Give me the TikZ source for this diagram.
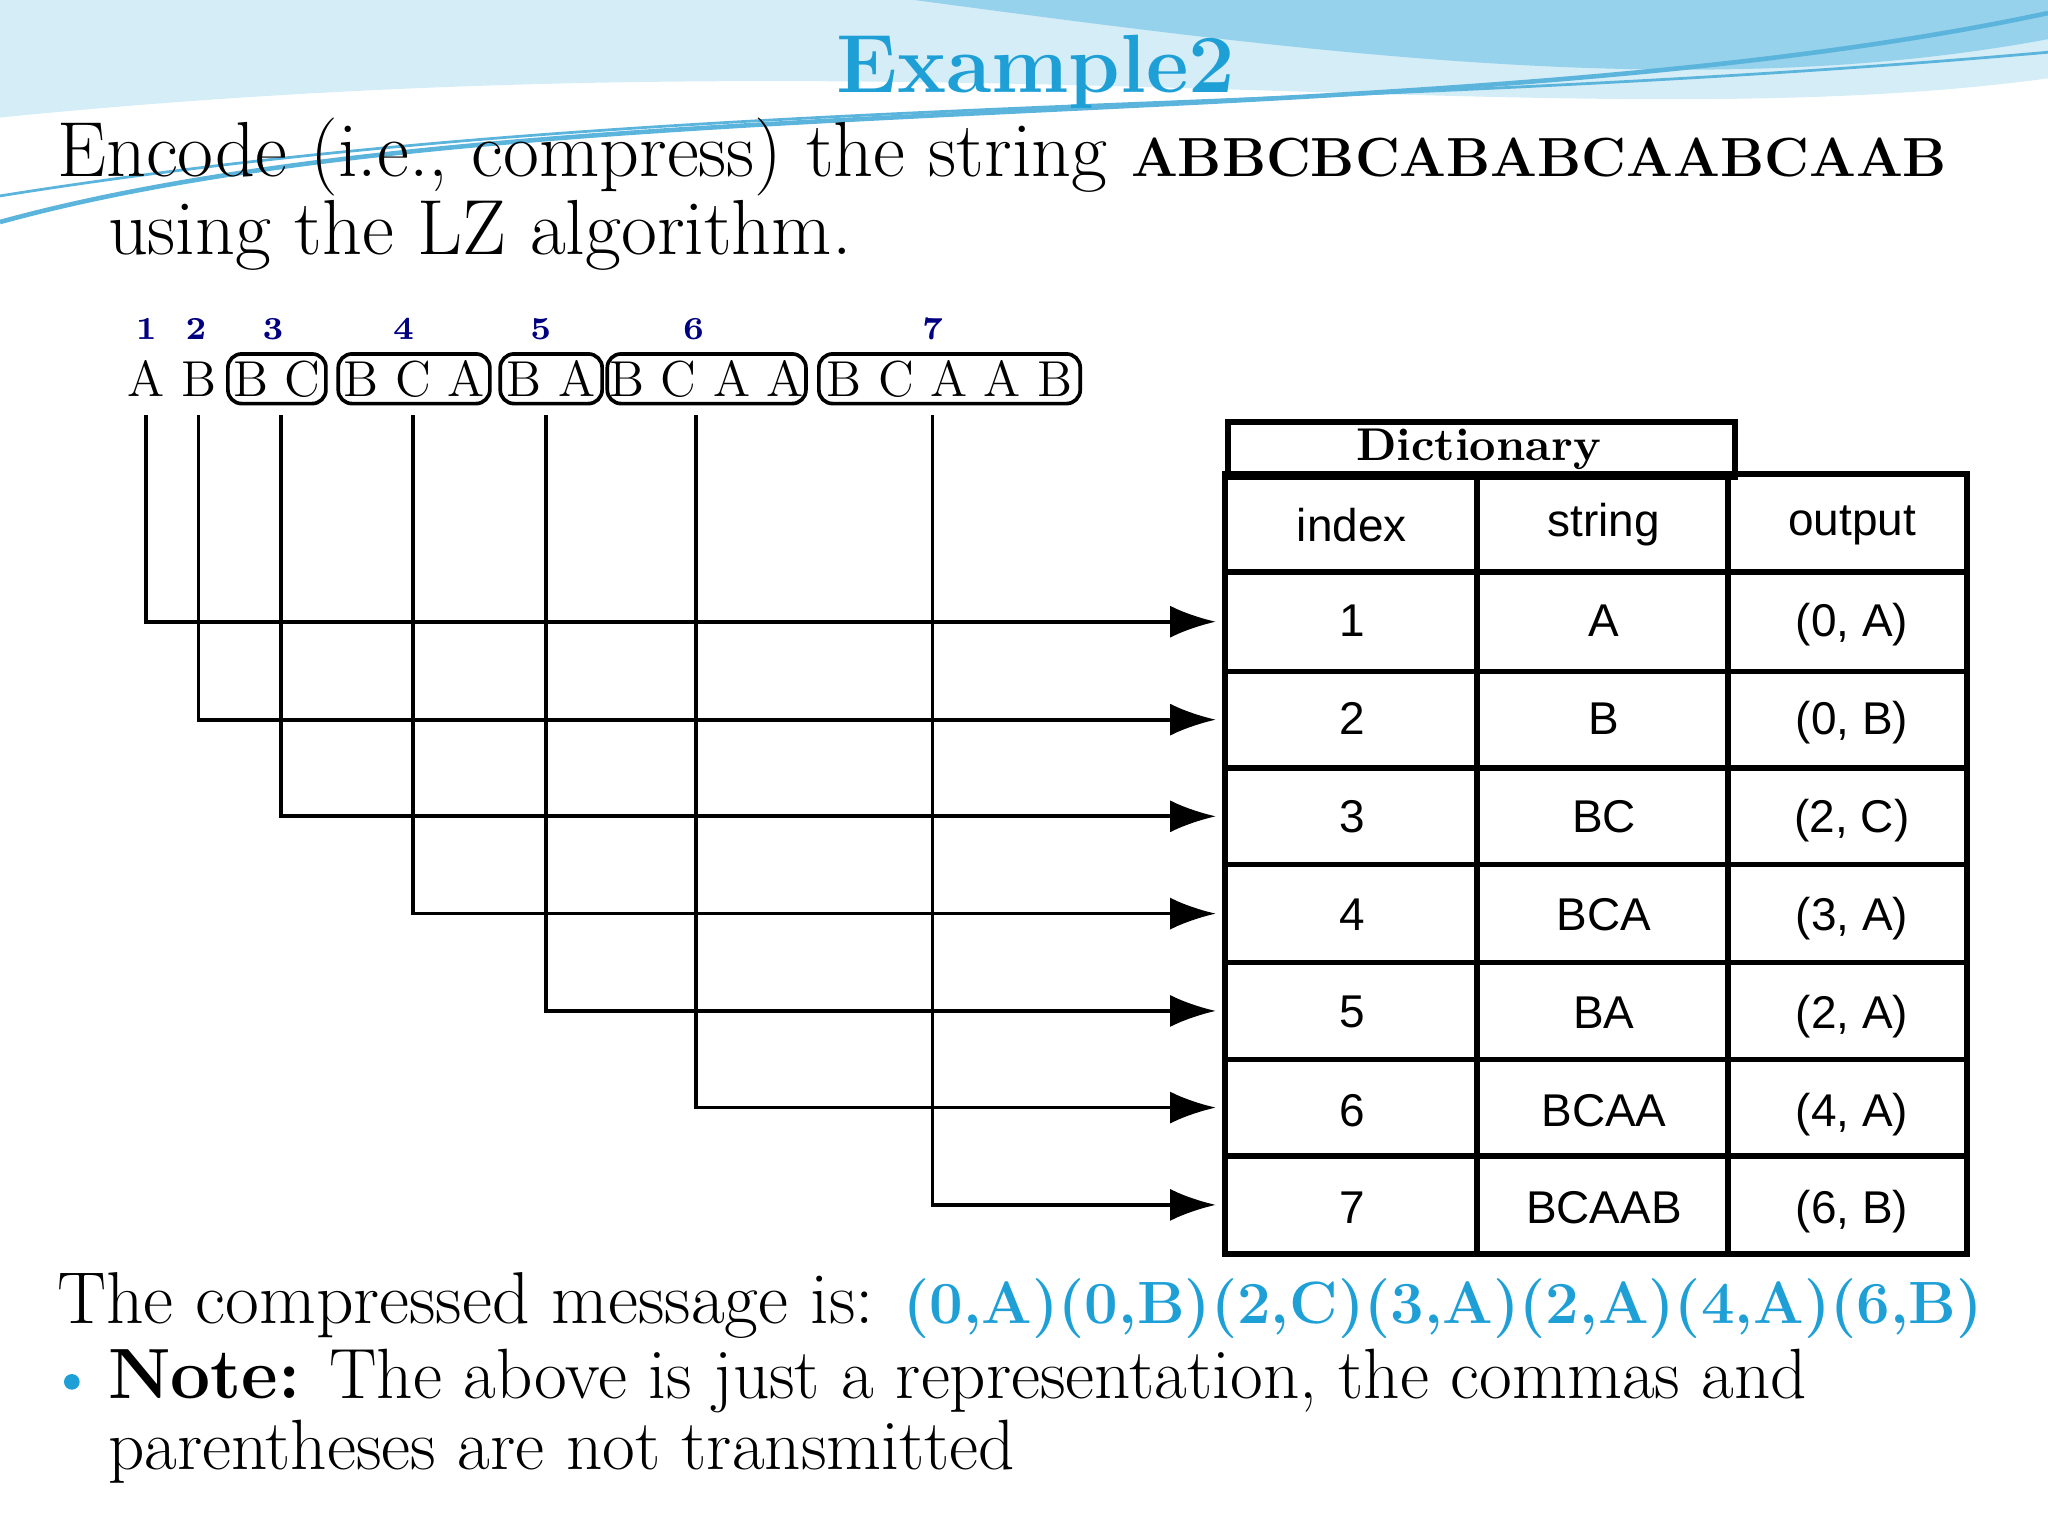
\documentclass[tikz,border=0pt]{standalone}
\usepackage{fontspec}
\setsansfont{Liberation Sans}
\usetikzlibrary{arrows.meta}
\definecolor{ttl}{RGB}{30,160,215}
\definecolor{wave}{RGB}{150,210,235}
\definecolor{wave2}{RGB}{90,180,220}
\begin{document}
\begin{tikzpicture}[x=0.01cm,y=-0.01cm,
  cell/.style={draw,line width=1.2pt},
  conn/.style={line width=0.8pt,-{Latex[length=10pt,width=7pt]}},
  lbl/.style={font=\sffamily\fontsize{10}{12}\selectfont},
  strl/.style={font=\fontsize{11}{13}\selectfont},
  num/.style={font=\bfseries\fontsize{7}{8}\selectfont,text=blue!50!black},
  bx/.style={draw,rounded corners=3pt,line width=0.8pt,minimum height=0.38cm,inner sep=0pt}]
\useasboundingbox (0,0) rectangle (1568,1176);
% background waves
\fill[wave!40] (0,0) -- (1568,0) -- (1568,60) .. controls (1200,110) and (700,20) .. (0,90) -- cycle;
\fill[wave] (700,0) -- (1568,0) -- (1568,30) .. controls (1300,80) and (1000,40) .. (700,0) -- cycle;
\draw[wave2,line width=1pt] (0,170) .. controls (400,60) and (1100,110) .. (1568,10);
\draw[wave2,line width=0.6pt] (0,150) .. controls (500,70) and (1000,90) .. (1568,40);
\fill[white] (85,230) rectangle (1518,965);
% title and text
\node[font=\bfseries\fontsize{18}{22}\selectfont,text=ttl] (title) at (793,55) {Example2};
\node[anchor=base west,font=\fontsize{17}{20}\selectfont,inner sep=0] (l1) at (43,135)
  {Encode (i.e., compress) the string \textbf{\fontsize{12}{14}\selectfont ABBCBCABABCAABCAAB}};
\node[anchor=base west,font=\fontsize{17}{20}\selectfont,inner sep=0] (l2) at (82,195) {using the LZ algorithm.};
% string
\node[strl] (s1) at (112,290) {A};
\node[strl] (s2) at (152,290) {B};
\node[bx,minimum width=0.75cm,strl] (s3) at (212,290) {B C};
\node[bx,minimum width=1.16cm,strl] (s4) at (317,290) {B C A};
\node[bx,minimum width=0.78cm,strl] (s5) at (422,290) {B A};
\node[bx,minimum width=1.52cm,strl] (s6) at (541,290) {B C A A};
\node[bx,minimum width=2.0cm,strl] (s7) at (727,290) {B C A A B};
\foreach \i/\x in {1/112,2/150,3/209,4/309,5/414,6/531,7/714}
  \node[num] (n\i) at (\x,252) {\i};
% table
\node[cell,minimum width=3.88cm,minimum height=0.42cm,anchor=north west,inner sep=0] (dict) at (938,321) {};
\node[font=\bfseries\fontsize{10}{12}\selectfont] at (1132,344) {Dictionary};
\def\cols{938/1131/1,1131/1323/2,1323/1506/3}
\foreach \ya/\yb/\r in {363/438/0,438/514/1,514/588/2,588/662/3,662/737/4,737/811/5,811/885/6,885/960/7}{
  \foreach \xa/\xb/\c in \cols
    \draw[cell] (\xa,\ya) rectangle (\xb,\yb);
  \coordinate (r\r) at (938,{(\ya+\yb)/2});
}
\foreach \t/\x in {index/1035,string/1228,output/1418}
  \node[lbl] (h\t) at (\x,402) {\t};
\foreach \r/\s/\o in {1/A/{(0, A)},2/B/{(0, B)},3/BC/{(2, C)},4/BCA/{(3, A)},5/BA/{(2, A)},6/BCAA/{(4, A)},7/BCAAB/{(6, B)}}{
  \node[lbl] (i\r) at (1035,{400+75*\r}) {\r};
  \node[lbl] (t\r) at (1228,{400+75*\r}) {\s};
  \node[lbl] (o\r) at (1418,{403+75*\r}) {\o};
}
% connectors
\foreach \i/\x in {1/112,2/152,3/215,4/316,5/418,6/533,7/714}{
  \coordinate (top\i) at (\x,318);
  \draw[conn] (top\i) |- ([xshift=-2]r\i);
}
% bottom text
\node[anchor=base west,font=\fontsize{16}{19}\selectfont,inner sep=0] (c1) at (43,1013)
  {The compressed message is: \textcolor{ttl}{\bfseries\fontsize{13}{15}\selectfont (0,A)(0,B)(2,C)(3,A)(2,A)(4,A)(6,B)}};
\fill[ttl] (55,1058) circle (6);
\node[anchor=base west,font=\fontsize{15.5}{18}\selectfont,inner sep=0] (c2) at (82,1071)
  {\textbf{Note:} The above is just a representation, the commas and};
\node[anchor=base west,font=\fontsize{15.5}{18}\selectfont,inner sep=0] (c3) at (82,1125)
  {parentheses are not transmitted};
\end{tikzpicture}
\end{document}
